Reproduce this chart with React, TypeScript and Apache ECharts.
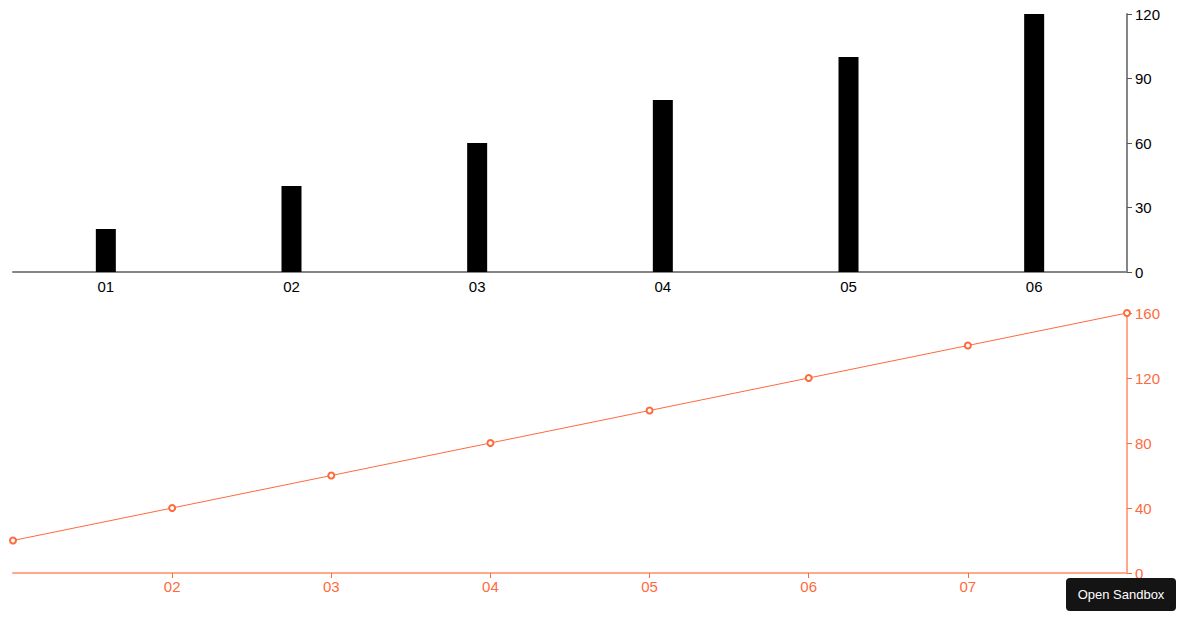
import React, { useEffect, useRef } from "react";
import * as echarts from "echarts";

const barCategories = ["01", "02", "03", "04", "05", "06"];
const barValues = [20, 40, 60, 80, 100, 120];
const lineCategories = ["01", "02", "03", "04", "05", "06", "07", "08"];
const lineValues = [20, 40, 60, 80, 100, 120, 140, 160];

const ORANGE = "#ff6a3d";
const ORANGE_LIGHT = "#ffa88a";
const GRAY = "#858585";
const FONT = "Liberation Sans, Arial, sans-serif";

export default function App() {
  const ref = useRef<HTMLDivElement>(null);
  useEffect(() => {
    if (!ref.current) return;
    const chart = echarts.init(ref.current, undefined, { renderer: "svg" });
    chart.setOption({
      animation: false,
      textStyle: { fontFamily: FONT },
      grid: [
        { left: 13, right: 73, top: 14, height: 258 },
        { left: 13, right: 73, top: 313, height: 260 },
      ],
      xAxis: [
        {
          type: "category",
          gridIndex: 0,
          data: barCategories,
          axisLine: { lineStyle: { color: GRAY, width: 2 } },
          axisTick: { alignWithLabel: true, lineStyle: { color: "#555" } },
          axisLabel: { color: "#000", fontSize: 15, fontFamily: FONT, margin: 7 },
        },
        {
          type: "category",
          gridIndex: 1,
          data: lineCategories,
          boundaryGap: false,
          axisLine: { lineStyle: { color: ORANGE_LIGHT, width: 2 } },
          axisTick: { lineStyle: { color: ORANGE } },
          axisLabel: {
            color: ORANGE,
            fontSize: 15,
            fontFamily: FONT,
            margin: 6,
            showMinLabel: false,
            showMaxLabel: false,
          },
        },
      ],
      yAxis: [
        {
          type: "value",
          gridIndex: 0,
          position: "right",
          min: 0,
          max: 120,
          interval: 30,
          splitLine: { show: false },
          axisLine: { show: true, lineStyle: { color: GRAY, width: 2 } },
          axisTick: { show: true, lineStyle: { color: "#555" } },
          axisLabel: { color: "#000", fontSize: 15, fontFamily: FONT },
        },
        {
          type: "value",
          gridIndex: 1,
          position: "right",
          min: 0,
          max: 160,
          interval: 40,
          splitLine: { show: false },
          axisLine: { show: true, lineStyle: { color: ORANGE_LIGHT, width: 2 } },
          axisTick: { show: true, lineStyle: { color: ORANGE } },
          axisLabel: { color: ORANGE, fontSize: 15, fontFamily: FONT },
        },
      ],
      series: [
        {
          type: "bar",
          xAxisIndex: 0,
          yAxisIndex: 0,
          data: barValues,
          barWidth: 20,
          itemStyle: { color: "#000" },
        },
        {
          type: "line",
          xAxisIndex: 1,
          yAxisIndex: 1,
          data: lineValues,
          symbol: "emptyCircle",
          symbolSize: 6,
          lineStyle: { color: ORANGE, width: 1 },
          itemStyle: { color: ORANGE, borderColor: ORANGE, borderWidth: 1 },
        },
      ],
    });
    return () => chart.dispose();
  }, []);
  return (
    <div style={{ position: "fixed", left: 0, top: 0, width: 1200, height: 630, background: "#fff" }}>
      <div ref={ref} style={{ width: 1200, height: 630 }} />
      <div
        style={{
          position: "absolute",
          left: 1066,
          top: 578,
          width: 110,
          height: 33,
          background: "#141414",
          color: "#fff",
          borderRadius: 4,
          fontFamily: FONT,
          fontSize: 13,
          display: "flex",
          alignItems: "center",
          justifyContent: "center",
        }}
      >
        Open Sandbox
      </div>
    </div>
  );
}
